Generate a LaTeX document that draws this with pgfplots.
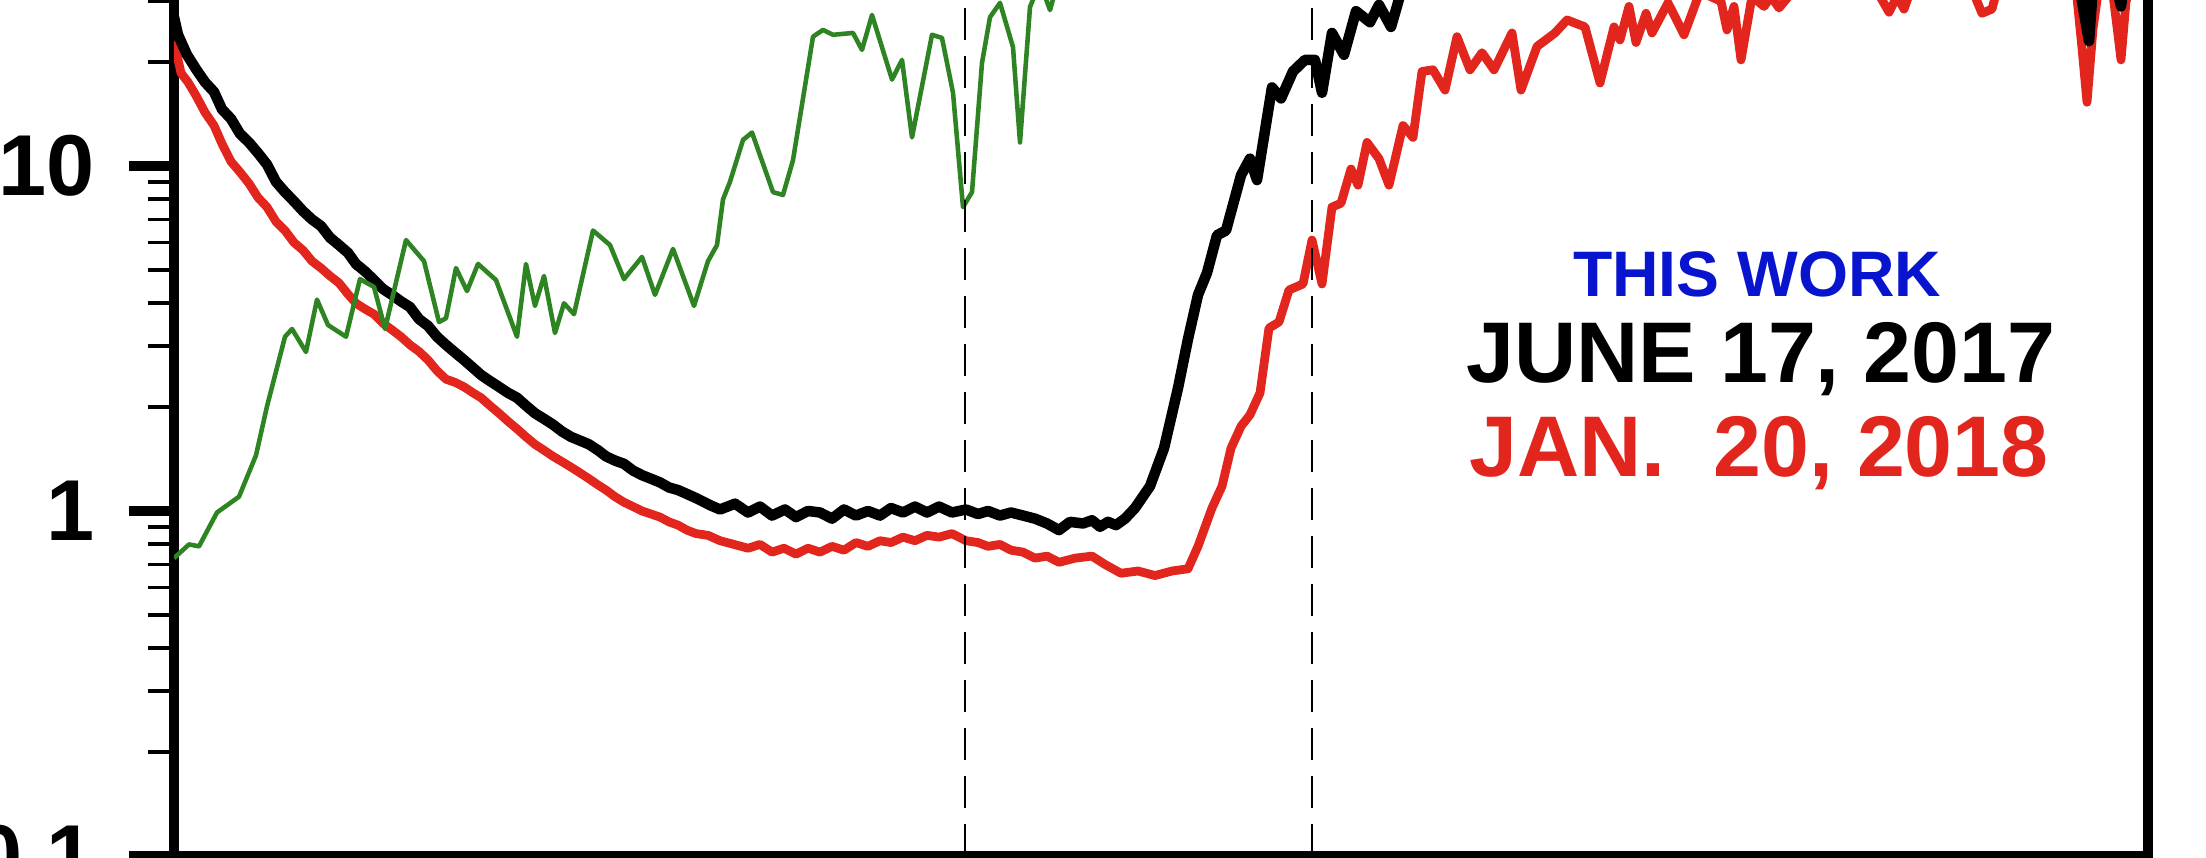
\documentclass[border=0pt]{standalone}
\usepackage{fontspec}
\setmainfont{Liberation Sans}
\usepackage{pgfplots}
\usepackage{pgfplotstable}
\pgfplotsset{compat=1.18}

\definecolor{cred}{RGB}{226,38,30}
\definecolor{cgreen}{RGB}{46,132,34}
\definecolor{cblue}{RGB}{8,20,205}

% X is the horizontal position (axis runs from 174 to 2148)
\pgfplotstableread{
X V
174 27.0
178 24.0
187 21.0
196 19.1
205 17.5
214 16.4
222 14.6
231 13.7
240 12.4
249 11.7
258 10.9
267 10.1
276 9.0
285 8.4
294 7.9
303 7.4
312 7.0
321 6.7
330 6.2
339 5.9
348 5.6
356 5.2
365 4.95
374 4.67
383 4.4
392 4.23
401 4.05
410 3.9
419 3.6
428 3.44
437 3.2
446 3.03
455 2.88
464 2.74
473 2.6
481 2.48
490 2.38
499 2.29
508 2.2
517 2.13
526 2.02
535 1.92
544 1.85
553 1.78
562 1.7
571 1.64
580 1.6
589 1.56
598 1.5
606 1.44
615 1.4
624 1.37
633 1.31
642 1.27
651 1.24
660 1.21
669 1.17
678 1.15
687 1.12
696 1.09
710 1.04
720 1.01
735 1.05
748 0.99
760 1.03
772 0.97
785 1.01
796 0.96
808 1.0
820 0.99
832 0.95
844 1.01
856 0.97
868 1.0
880 0.97
891 1.02
903 0.99
915 1.03
927 0.99
939 1.03
952 0.99
966 1.01
978 0.98
988 1.0
1000 0.97
1011 0.99
1023 0.97
1035 0.95
1047 0.92
1059 0.88
1070 0.93
1083 0.92
1092 0.94
1100 0.9
1108 0.93
1116 0.91
1125 0.95
1135 1.02
1150 1.18
1164 1.52
1178 2.27
1188 3.15
1198 4.23
1207 4.9
1217 6.3
1226 6.5
1241 9.4
1250 10.5
1257 9.1
1272 16.9
1281 15.7
1293 18.8
1305 20.3
1315 20.3
1322 16.3
1332 24.3
1344 21
1356 28.1
1370 26.1
1379 29.3
1391 25.3
1405 35
1420 40
1500 45
1700 50
1900 50
2070 48
2082 30
2089 23
2095 40
2115 35
2121 29
2130 45
2148 45
}\blacktab

\pgfplotstableread{
X V
174 23
181 18.6
188 17.5
196 16.0
205 14.3
214 13.1
222 11.6
231 10.3
240 9.6
249 8.9
258 8.1
267 7.6
276 6.9
285 6.5
294 6.0
303 5.7
312 5.3
321 5.06
330 4.8
339 4.58
348 4.25
356 4.0
365 3.85
374 3.72
383 3.5
392 3.35
401 3.2
410 3.03
419 2.9
428 2.74
437 2.55
446 2.41
455 2.36
464 2.29
473 2.2
481 2.13
490 2.02
499 1.92
508 1.82
517 1.73
526 1.64
535 1.56
544 1.5
553 1.44
562 1.39
571 1.34
580 1.29
589 1.24
598 1.19
606 1.15
615 1.1
624 1.06
633 1.03
642 1.0
651 0.98
660 0.96
669 0.93
678 0.91
687 0.88
696 0.86
708 0.85
720 0.82
734 0.8
748 0.78
760 0.8
772 0.76
784 0.78
796 0.75
808 0.78
820 0.76
832 0.79
844 0.77
856 0.81
868 0.79
880 0.82
891 0.81
903 0.84
915 0.82
927 0.85
939 0.84
952 0.86
966 0.82
978 0.81
988 0.79
1000 0.8
1011 0.77
1023 0.76
1035 0.73
1047 0.74
1059 0.71
1075 0.73
1092 0.74
1105 0.7
1121 0.66
1138 0.67
1155 0.65
1172 0.67
1188 0.68
1198 0.79
1212 1.02
1222 1.18
1231 1.52
1241 1.76
1250 1.9
1260 2.2
1269 3.39
1279 3.53
1289 4.37
1303 4.55
1312 6.1
1322 4.55
1332 7.6
1341 7.8
1351 9.8
1358 8.8
1367 11.7
1379 10.5
1389 8.8
1403 13.1
1413 12.1
1422 18.8
1433 19
1445 16.6
1457 23.7
1470 19
1482 21.3
1494 19
1512 24.3
1521 16.6
1537 22.2
1555 24.3
1567 26.5
1585 25.3
1600 17.4
1614 25.3
1620 23.2
1629 29
1636 22.8
1646 27.7
1652 24.3
1668 29.7
1684 24
1700 32
1721 30
1727 24.8
1734 29
1741 20.3
1752 31
1764 29
1771 31
1779 28.7
1800 34
1850 36
1880 31
1889 27.9
1897 31
1904 28.5
1915 35
1950 36
1975 31
1982 27.7
1992 28.5
2000 35
2040 37
2075 35
2082 22
2087 15.3
2093 25
2100 35
2112 33
2118 24
2121 20.3
2126 30
2135 36
2148 36
}\redtab

\pgfplotstableread{
X V
174 0.73
189 0.80
199 0.79
217 0.99
239 1.10
256 1.45
267 2.01
285 3.2
292 3.37
306 2.89
317 4.1
328 3.46
346 3.2
360 4.7
374 4.46
385 3.37
406 6.1
424 5.3
439 3.53
446 3.62
456 5.06
467 4.34
478 5.2
496 4.67
517 3.2
526 5.2
535 3.93
544 4.8
555 3.28
564 4.0
574 3.72
593 6.5
610 5.9
624 4.7
642 5.45
655 4.23
673 5.75
694 3.93
708 5.3
717 5.9
723 8.0
730 9.0
743 11.9
752 12.5
773 8.4
783 8.24
793 10.4
813 23.7
823 24.8
833 24.0
853 24.3
862 21.7
872 27.4
892 17.8
902 20.3
912 12.1
932 24.0
942 23.5
953 16.3
963 7.6
972 8.4
982 19.9
990 27.0
1000 29.7
1013 22.1
1020 11.7
1030 28.9
1040 34
1050 28.3
1060 36
1070 40
}\greentab

\begin{document}
\begin{tikzpicture}
\begin{axis}[
    scale only axis,
    width=197.4mm, height=103.5mm,
    xmin=0, xmax=100,
    ymode=log, ymin=0.1, ymax=100,
    xtick=\empty,
    ytick={0.1,1,10},
    yticklabels={0.1,1,10},
    minor ytick={0.2,0.3,0.4,0.5,0.6,0.7,0.8,0.9,2,3,4,5,6,7,8,9,20,30,40,50,60,70,80,90},
    ytick pos=left,
    tick align=outside,
    major tick length=4.5mm,
    minor tick length=2.6mm,
    major tick style={line width=2.8pt, black},
    minor tick style={line width=1.1pt, black},
    axis line style={line width=2.8pt},
    yticklabel style={font=\fontsize{24.6}{25}\selectfont\bfseries, xshift=-2.2mm},
    /pgf/number format/assume math mode=true,
]
\addplot[cred, line width=2.5pt, line join=round] table[x expr={(\thisrow{X}-174)/19.74}, y=V] {\redtab};
\addplot[black, line width=3pt, line join=round] table[x expr={(\thisrow{X}-174)/19.74}, y=V] {\blacktab};
\addplot[cgreen, line width=1.3pt, line join=round] table[x expr={(\thisrow{X}-174)/19.74}, y=V] {\greentab};

\draw[line width=0.8pt, dash pattern=on 3.2mm off 1.6mm] (axis cs:40.07,0.1) -- (axis cs:40.07,100);
\draw[line width=0.8pt, dash pattern=on 3.2mm off 1.6mm] (axis cs:57.65,0.1) -- (axis cs:57.65,100);

\node[text=cblue, font=\fontsize{18.3}{20}\selectfont\bfseries] at (axis cs:80.2,4.86) {THIS WORK};
\node[text=black, font=\fontsize{24.5}{26}\selectfont\bfseries] at (axis cs:80.4,2.76) {JUNE 17, 2017};
\node[text=cred, font=\fontsize{24.5}{26}\selectfont\bfseries] at (axis cs:80.3,1.47) {JAN.\ \ 20, 2018};

\coordinate (ll) at (axis cs:0,0.1);
\end{axis}
\pgfresetboundingbox
\path[use as bounding box] (ll) ++(-17.4mm,-0.2mm) rectangle ++(220.6mm,85.8mm);
\end{tikzpicture}
\end{document}
